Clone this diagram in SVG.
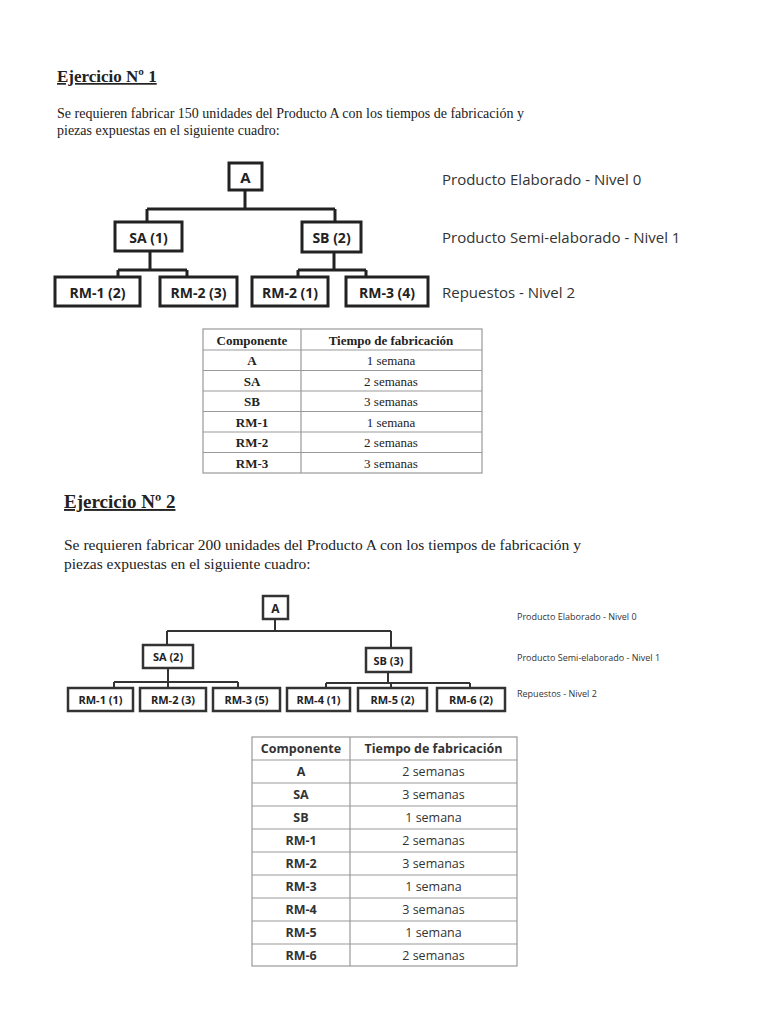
<svg xmlns="http://www.w3.org/2000/svg" width="768" height="1024" viewBox="0 0 768 1024">
<style>
.t{font-family:"Liberation Serif",serif;fill:#222}
.s{font-family:"Open Sans","DejaVu Sans",sans-serif;fill:#333}
.n{font-weight:bold;fill:#222}
.b{fill:#fff;stroke:#222;stroke-width:3}
.b2{fill:#fff;stroke:#333;stroke-width:2.5}
.c{fill:none;stroke:#222;stroke-width:3}
.c2{fill:none;stroke:#333;stroke-width:2}
.g{stroke:#999;stroke-width:1.2;fill:none}
</style>
<rect width="768" height="1024" fill="#fff"/>
<text class="t" x="57" y="82" font-size="17" font-weight="bold" text-decoration="underline">Ejercicio Nº 1</text>
<text class="t" x="57" y="118" font-size="14">Se requieren fabricar 150 unidades del Producto A con los tiempos de fabricación y</text>
<text class="t" x="57" y="135" font-size="14">piezas expuestas en el siguiente cuadro:</text>
<g id="connectors1">
<path class="c" d="M245 190V209M147 209H335M147 209V222M335 209V222M150 251V270M118 270H187M118 270V277M187 270V277M334 252V270M298 270H366M298 270V277M366 270V277"/>
</g>
<g id="n1A"><rect class="b" x="229" y="163" width="33" height="27"/><text class="s n" x="245.5" y="183" font-size="15" text-anchor="middle">A</text></g>
<g id="n1SA"><rect class="b" x="115" y="222" width="67" height="29"/><text class="s n" x="148.5" y="243" font-size="14" text-anchor="middle">SA (1)</text></g>
<g id="n1SB"><rect class="b" x="302" y="222" width="59" height="30"/><text class="s n" x="331.5" y="243" font-size="14" text-anchor="middle">SB (2)</text></g>
<g id="n1RM1"><rect class="b" x="55" y="277" width="85" height="29"/><text class="s n" x="97.5" y="298" font-size="14" text-anchor="middle">RM-1 (2)</text></g>
<g id="n1RM2"><rect class="b" x="160" y="277" width="77" height="29"/><text class="s n" x="198.5" y="298" font-size="14" text-anchor="middle">RM-2 (3)</text></g>
<g id="n1RM2b"><rect class="b" x="252" y="277" width="76" height="29"/><text class="s n" x="290" y="298" font-size="14" text-anchor="middle">RM-2 (1)</text></g>
<g id="n1RM3"><rect class="b" x="346" y="277" width="82" height="29"/><text class="s n" x="387" y="298" font-size="14" text-anchor="middle">RM-3 (4)</text></g>
<text class="s" x="442" y="185" font-size="15">Producto Elaborado - Nivel 0</text>
<text class="s" x="442" y="243" font-size="15">Producto Semi-elaborado - Nivel 1</text>
<text class="s" x="442" y="298" font-size="15">Repuestos - Nivel 2</text>
<g id="table1">
<rect class="g" x="203" y="329" width="279" height="144"/>
<path class="g" d="M301 329V473M203 350H482M203 370.5H482M203 391H482M203 411.5H482M203 432H482M203 452.5H482"/>
<g class="t" font-size="13" text-anchor="middle">
<text x="252" y="345" font-weight="bold">Componente</text><text x="391" y="345" font-weight="bold">Tiempo de fabricación</text>
<text x="252" y="365" font-weight="bold">A</text><text x="391" y="365">1 semana</text>
<text x="252" y="385.5" font-weight="bold">SA</text><text x="391" y="385.5">2 semanas</text>
<text x="252" y="406" font-weight="bold">SB</text><text x="391" y="406">3 semanas</text>
<text x="252" y="426.5" font-weight="bold">RM-1</text><text x="391" y="426.5">1 semana</text>
<text x="252" y="447" font-weight="bold">RM-2</text><text x="391" y="447">2 semanas</text>
<text x="252" y="467.5" font-weight="bold">RM-3</text><text x="391" y="467.5">3 semanas</text>
</g></g>
<text class="t" x="64" y="508" font-size="19" font-weight="bold" text-decoration="underline">Ejercicio Nº 2</text>
<text class="t" x="64" y="550" font-size="15.5">Se requieren fabricar 200 unidades del Producto A con los tiempos de fabricación y</text>
<text class="t" x="64" y="569" font-size="15.5">piezas expuestas en el siguiente cuadro:</text>
<g id="connectors2">
<path class="c2" d="M275 619V631M167 631H391M167 631V645M391 631V648M168 668V682M114 682H238M114 682V688M168 682V688M238 682V688M388 672V683M326 683H470M326 683V688M391 683V688M470 683V688"/>
</g>
<g id="n2A"><rect class="b2" x="263" y="596" width="25" height="23"/><text class="s n" x="275.5" y="613" font-size="12" text-anchor="middle">A</text></g>
<g id="n2SA"><rect class="b2" x="143" y="645" width="50" height="23"/><text class="s n" x="168" y="661" font-size="11" text-anchor="middle">SA (2)</text></g>
<g id="n2SB"><rect class="b2" x="366" y="648" width="45" height="24"/><text class="s n" x="388.5" y="665" font-size="11" text-anchor="middle">SB (3)</text></g>
<g id="n2RM1"><rect class="b2" x="68" y="688" width="65" height="23"/><text class="s n" x="100.5" y="704" font-size="11" text-anchor="middle">RM-1 (1)</text></g>
<g id="n2RM2"><rect class="b2" x="140" y="688" width="66" height="23"/><text class="s n" x="173" y="704" font-size="11" text-anchor="middle">RM-2 (3)</text></g>
<g id="n2RM3"><rect class="b2" x="213" y="688" width="67" height="23"/><text class="s n" x="246.5" y="704" font-size="11" text-anchor="middle">RM-3 (5)</text></g>
<g id="n2RM4"><rect class="b2" x="287" y="688" width="63" height="23"/><text class="s n" x="318.5" y="704" font-size="11" text-anchor="middle">RM-4 (1)</text></g>
<g id="n2RM5"><rect class="b2" x="358" y="688" width="69" height="23"/><text class="s n" x="392.5" y="704" font-size="11" text-anchor="middle">RM-5 (2)</text></g>
<g id="n2RM6"><rect class="b2" x="437" y="688" width="68" height="23"/><text class="s n" x="471" y="704" font-size="11" text-anchor="middle">RM-6 (2)</text></g>
<text class="s" x="517" y="620" font-size="9">Producto Elaborado - Nivel 0</text>
<text class="s" x="517" y="661" font-size="9">Producto Semi-elaborado - Nivel 1</text>
<text class="s" x="517" y="697" font-size="9">Repuestos - Nivel 2</text>
<g id="table2">
<rect class="g" x="252" y="737" width="265" height="229"/>
<path class="g" d="M350 737V966M252 760H517M252 783H517M252 806H517M252 829H517M252 852H517M252 875H517M252 898H517M252 921H517M252 944H517"/>
<g class="s" font-size="12.5" text-anchor="middle">
<text x="301" y="753" font-weight="bold">Componente</text><text x="433.5" y="753" font-weight="bold">Tiempo de fabricación</text>
<text x="301" y="776" font-weight="bold">A</text><text x="433.5" y="776">2 semanas</text>
<text x="301" y="799" font-weight="bold">SA</text><text x="433.5" y="799">3 semanas</text>
<text x="301" y="822" font-weight="bold">SB</text><text x="433.5" y="822">1 semana</text>
<text x="301" y="845" font-weight="bold">RM-1</text><text x="433.5" y="845">2 semanas</text>
<text x="301" y="868" font-weight="bold">RM-2</text><text x="433.5" y="868">3 semanas</text>
<text x="301" y="891" font-weight="bold">RM-3</text><text x="433.5" y="891">1 semana</text>
<text x="301" y="914" font-weight="bold">RM-4</text><text x="433.5" y="914">3 semanas</text>
<text x="301" y="937" font-weight="bold">RM-5</text><text x="433.5" y="937">1 semana</text>
<text x="301" y="960" font-weight="bold">RM-6</text><text x="433.5" y="960">2 semanas</text>
</g></g>
</svg>
